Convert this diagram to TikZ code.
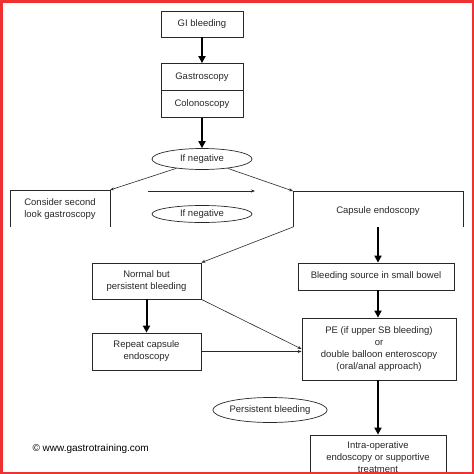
\documentclass[tikz,border=0pt]{standalone}
\usepackage{fontspec}
\setmainfont{Liberation Sans}
\usetikzlibrary{shapes.geometric,arrows.meta}
\definecolor{framered}{RGB}{238,50,50}
\definecolor{ink}{RGB}{40,40,40}

\begin{document}
\begin{tikzpicture}[x=1pt,y=-1pt,
  box/.style={draw=ink,line width=0.8pt,inner sep=0pt,align=center,
    font=\fontsize{9.5}{12}\selectfont,text=ink},
  oval/.style={draw=ink,line width=0.7pt,ellipse,inner sep=0pt,
    font=\fontsize{9.5}{12}\selectfont,text=ink},
  label/.style={align=center,font=\fontsize{9.5}{12}\selectfont,text=ink},
  bigarrow/.style={draw=black,line width=2pt,-{Triangle[length=7pt,width=7pt]}},
  smallarrow/.style={draw=ink,line width=0.6pt,-{Stealth[length=4pt,width=3pt]}}]
  \clip (0,0) rectangle (474,474);
  \fill[white] (0,0) rectangle (474,474);
  % top of the chart
  \node[box,minimum width=82pt,minimum height=26pt] (gi) at (202,24) {GI bleeding};
  \node[box,minimum width=82pt,minimum height=27pt] (gastro) at (202,77) {Gastroscopy};
  \node[box,minimum width=82pt,minimum height=27pt] (colono) at (202,104) {Colonoscopy};
  \node[oval,minimum width=100pt,minimum height=21pt] (neg1) at (202,159) {If negative};
  \draw[bigarrow] (gi.south) -- (gastro.north);
  \draw[bigarrow] (colono.south) -- (neg1.north);
  % the two open brackets
  \coordinate (lbl) at (10,227);
  \coordinate (lbtl) at (10,190);
  \coordinate (lbtr) at (110,190);
  \coordinate (lbr) at (110,227);
  \coordinate (rbl) at (293,227);
  \coordinate (rbtl) at (293,191);
  \coordinate (rbtr) at (463,191);
  \coordinate (rbr) at (463,227);
  \draw[draw=ink,line width=0.7pt] (lbl) -- (lbtl) -- (lbtr) -- (lbr);
  \draw[draw=ink,line width=0.7pt] (rbl) -- (rbtl) -- (rbtr) -- (rbr);
  \node[label] (second) at (60,209) {Consider second\\look gastroscopy};
  \node[label] (capsule) at (378,211) {Capsule endoscopy};
  \draw[smallarrow] (neg1.200) -- (lbtr);
  \draw[smallarrow] (neg1.-20) -- (rbtl);
  \coordinate (mida) at (148,191);
  \coordinate (midb) at (255,191);
  \draw[smallarrow] (mida) -- (midb);
  \node[oval,minimum width=100pt,minimum height=17pt] (neg2) at (202,214) {If negative};
  % lower part
  \node[box,minimum width=109pt,minimum height=36pt] (normal) at (146.5,281) {Normal but\\persistent bleeding};
  \node[box,minimum width=109pt,minimum height=37pt] (repeat) at (146.5,351.5) {Repeat capsule\\endoscopy};
  \node[box,minimum width=156pt,minimum height=27pt] (bleed) at (376,276.5) {Bleeding source in small bowel};
  \node[box,minimum width=154pt,minimum height=62pt] (pe) at (379,349) {PE (if upper SB bleeding)\\or\\double balloon enteroscopy\\(oral/anal approach)};
  \node[oval,minimum width=113pt,minimum height=25pt] (persist) at (270,410) {Persistent bleeding};
  \node[box,minimum width=136pt,minimum height=44pt] (intra) at (378,457) {Intra-operative\\endoscopy or supportive\\treatment};
  \coordinate (capdown) at (378,227);
  \draw[smallarrow] (rbl) -- (normal.north east);
  \draw[bigarrow] (capdown) -- (capdown |- bleed.north);
  \draw[bigarrow] (capdown |- bleed.south) -- (capdown |- pe.north);
  \draw[bigarrow] (normal.south) -- (repeat.north);
  \draw[smallarrow] (normal.south east) -- (pe.west);
  \draw[smallarrow] (repeat.east) -- (repeat.east -| pe.west);
  \draw[bigarrow] (capdown |- pe.south) -- (intra.north);
  \node[font=\fontsize{10}{12}\selectfont,text=black,anchor=west] (copy) at (29,449) {© www.gastrotraining.com};
  % red frame
  \draw[draw=framered,line width=5pt] (0,0) rectangle (474,474);
\end{tikzpicture}
\end{document}
